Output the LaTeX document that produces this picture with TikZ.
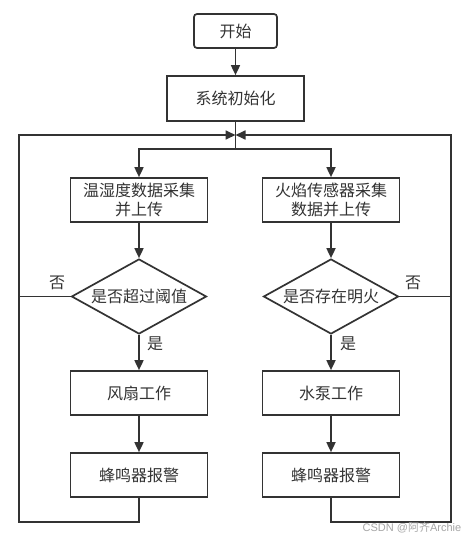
\documentclass[tikz,border=0pt]{standalone}
\usepackage{fontspec}
\setmainfont{Noto Sans CJK SC}
\usetikzlibrary{arrows.meta,shapes.geometric}
\definecolor{ln}{HTML}{333333}
\begin{document}
\begin{tikzpicture}[x=1pt,y=-1pt,
  every node/.style={text=ln,font=\fontsize{16}{19.5}\selectfont},
  box/.style={draw=ln,line width=1.7pt,rectangle,minimum width=137pt,minimum height=44pt,inner sep=1pt,align=center},
  startbox/.style={box,rounded corners=3pt,minimum width=83pt,minimum height=34pt},
  dec/.style={draw=ln,line width=1.7pt,diamond,aspect=1.8,inner sep=0pt,minimum width=135pt,minimum height=75pt},
  conn/.style={draw=ln,line width=1.7pt},
  arr/.style={conn,-{Triangle[length=10pt,width=9pt]}},
  lbl/.style={inner sep=0pt}
]
\useasboundingbox (0,0) rectangle (474,541);
\fill[white] (0,0) rectangle (474,541);
\node[startbox] (start) at (235.5,31) {开始};
\node[box,minimum height=45pt] (init) at (235.5,98.5) {系统初始化};
\node[box] (tl) at (139,200) {温湿度数据采集\\并上传};
\node[box] (tr) at (331,200) {火焰传感器采集\\数据并上传};
\node[dec] (dl) at (139,296.5) {是否超过阈值};
\node[dec] (dr) at (331,296.5) {是否存在明火};
\node[box] (fan) at (139,393) {风扇工作};
\node[box] (pump) at (331,393) {水泵工作};
\node[box] (bl) at (139,475) {蜂鸣器报警};
\node[box] (br) at (331,475) {蜂鸣器报警};
\coordinate (join) at (235.5,135);
\coordinate (split) at (235.5,149);
\coordinate (lx) at (19,0);
\coordinate (rx) at (451,0);
\coordinate (by) at (0,522);
\draw[arr] (start) -- (init);
\draw[conn] (init.south) -- (split);
\draw[arr] (split) -| (tl.north);
\draw[arr] (split) -| (tr.north);
\draw[arr] (tl) -- (dl);
\draw[arr] (tr) -- (dr);
\draw[arr] (dl) -- (fan);
\draw[arr] (dr) -- (pump);
\draw[arr] (fan) -- (bl);
\draw[arr] (pump) -- (br);
\draw[conn] (dl.west) -- (dl.west -| lx);
\draw[conn] (dr.east) -- (dr.east -| rx);
\draw[arr] (bl.south) -- (bl.south |- by) -- (lx |- by) -- (lx |- join) -- (join);
\draw[arr] (br.south) -- (br.south |- by) -- (rx |- by) -- (rx |- join) -- (join);
\node[lbl] (nol) at (57,283) {否};
\node[lbl] (nor) at (413,283) {否};
\node[lbl] (yesl) at (155,344) {是};
\node[lbl] (yesr) at (348,344) {是};
\node[lbl,text=black!35,font=\fontsize{11}{12}\selectfont\fontspec{Liberation Sans}] (wm) at (412,528) {CSDN @\fontspec{Noto Sans CJK SC}阿齐\fontspec{Liberation Sans}Archie};
\end{tikzpicture}
\end{document}
